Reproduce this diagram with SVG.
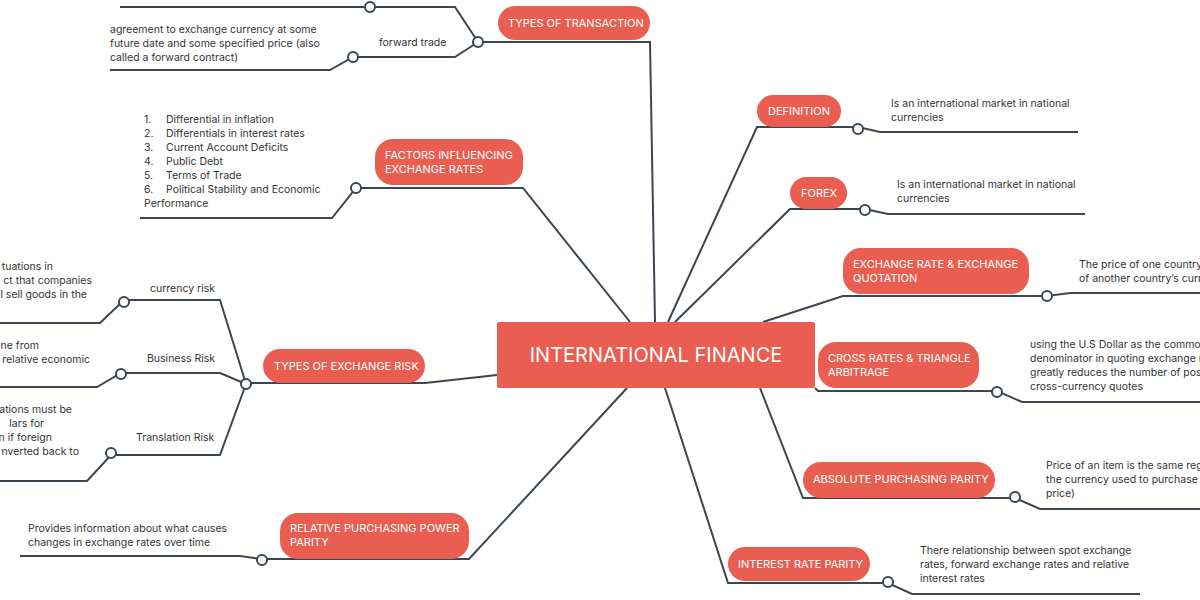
<svg xmlns="http://www.w3.org/2000/svg" width="1200" height="600" viewBox="0 0 1200 600">
<style>
.p{fill:#E95E50}
.pt{fill:#fff;font-family:Inter,"Liberation Sans",sans-serif;font-size:11px}
.t{fill:#333;font-family:Inter,"Liberation Sans",sans-serif;font-size:10.5px}
.l{fill:none;stroke:#3b4650;stroke-width:2}
.c{fill:#fff;stroke:#3b4650;stroke-width:2}
</style>
<rect width="1200" height="600" fill="#fff"/>
<g id="connectors">
<path class="l" d="M655,322 L650,42 H478 M478,42 L455,7 H120 M478,42 L455,57 H353 L330,70 H110"/>
<path class="l" d="M668,322 L757,127 H858 L880,132 H1078"/>
<path class="l" d="M675,322 L790,209 H865 L888,214 H1085"/>
<path class="l" d="M763,322 L843,296 H1047 L1070,293 H1200"/>
<path class="l" d="M815,388 L818,391 H997 L1022,402 H1200"/>
<path class="l" d="M760,388 L803,498 H1015 L1040,509 H1200"/>
<path class="l" d="M665,388 L728,583 H888 L912,594 H1140"/>
<path class="l" d="M627,388 L469,559 H262 L240,556 H20"/>
<path class="l" d="M497,375 L425,383 H246 M246,384 L220,300 H124 L100,323 H0 M246,384 L220,373 H121 L97,387 H0 M246,384 L220,455 H111 L87,481 H0"/>
<path class="l" d="M630,322 L523,188 H356 L332,218 H140"/>
<circle class="c" cx="370" cy="7" r="5"/><circle class="c" cx="478" cy="42" r="5"/><circle class="c" cx="353" cy="57" r="5"/>
<circle class="c" cx="858" cy="129" r="5"/><circle class="c" cx="865" cy="210" r="5"/><circle class="c" cx="1047" cy="296" r="5"/>
<circle class="c" cx="997" cy="392" r="5"/><circle class="c" cx="1015" cy="497" r="5"/><circle class="c" cx="888" cy="582" r="5"/>
<circle class="c" cx="262" cy="560" r="5"/><circle class="c" cx="246" cy="384" r="5"/><circle class="c" cx="124" cy="302" r="5"/>
<circle class="c" cx="121" cy="374" r="5"/><circle class="c" cx="111" cy="453" r="5"/><circle class="c" cx="356" cy="188" r="5"/>
</g>
<g id="center"><rect class="p" x="497" y="322" width="318" height="66" rx="2"/><text class="pt" x="656" y="362" text-anchor="middle" style="font-size:20px">INTERNATIONAL FINANCE</text></g>
<g id="types-of-transaction"><rect class="p" x="498" y="6" width="152" height="34" rx="17"/><text class="pt" x="508" y="27">TYPES OF TRANSACTION</text>
<text class="t" x="379" y="46">forward trade</text>
<text class="t" x="110" y="33">agreement to exchange currency at some</text><text class="t" x="110" y="47">future date and some specified price (also</text><text class="t" x="110" y="61">called a forward contract)</text></g>
<g id="definition"><rect class="p" x="757" y="95" width="84" height="32" rx="16"/><text class="pt" x="768" y="115">DEFINITION</text>
<text class="t" x="891" y="107">Is an international market in national</text><text class="t" x="891" y="121">currencies</text></g>
<g id="forex"><rect class="p" x="790" y="177" width="57" height="32" rx="16"/><text class="pt" x="801" y="197">FOREX</text>
<text class="t" x="897" y="188">Is an international market in national</text><text class="t" x="897" y="202">currencies</text></g>
<g id="exchange-rate"><rect class="p" x="843" y="248" width="186" height="46" rx="18"/><text class="pt" x="853" y="268">EXCHANGE RATE &amp; EXCHANGE</text><text class="pt" x="853" y="282">QUOTATION</text>
<text class="t" x="1079" y="268">The price of one country’s currency in units</text><text class="t" x="1079" y="282">of another country’s currency</text></g>
<g id="cross-rates"><rect class="p" x="818" y="342" width="161" height="46" rx="18"/><text class="pt" x="828" y="362">CROSS RATES &amp; TRIANGLE</text><text class="pt" x="828" y="376">ARBITRAGE</text>
<text class="t" x="1030" y="348">using the U.S Dollar as the common</text><text class="t" x="1030" y="362">denominator in quoting exchange rates</text><text class="t" x="1030" y="376">greatly reduces the number of possible</text><text class="t" x="1030" y="390">cross-currency quotes</text></g>
<g id="absolute-ppp"><rect class="p" x="803" y="462" width="192" height="36" rx="18"/><text class="pt" x="813" y="483">ABSOLUTE PURCHASING PARITY</text>
<text class="t" x="1046" y="469">Price of an item is the same regardless of</text><text class="t" x="1046" y="483">the currency used to purchase it (law of one</text><text class="t" x="1046" y="497">price)</text></g>
<g id="interest-rate-parity"><rect class="p" x="728" y="547" width="142" height="34" rx="17"/><text class="pt" x="738" y="568">INTEREST RATE PARITY</text>
<text class="t" x="920" y="554">There relationship between spot exchange</text><text class="t" x="920" y="568">rates, forward exchange rates and relative</text><text class="t" x="920" y="582">interest rates</text></g>
<g id="relative-ppp"><rect class="p" x="280" y="513" width="189" height="46" rx="18"/><text class="pt" x="290" y="532">RELATIVE PURCHASING POWER</text><text class="pt" x="290" y="546">PARITY</text>
<text class="t" x="28" y="532">Provides information about what causes</text><text class="t" x="28" y="546">changes in exchange rates over time</text></g>
<g id="types-of-exchange-risk"><rect class="p" x="263" y="349" width="162" height="34" rx="17"/><text class="pt" x="274" y="370">TYPES OF EXCHANGE RISK</text>
<text class="t" x="150" y="292">currency risk</text><text class="t" x="147" y="362">Business Risk</text><text class="t" x="136" y="441">Translation Risk</text>
<text class="t" x="53" y="270" text-anchor="end">tuations in</text><text class="t" x="92" y="284" text-anchor="end">ct that companies</text><text class="t" x="87" y="298" text-anchor="end">l sell goods in the</text>
<text class="t" x="39" y="349" text-anchor="end">ne from</text><text class="t" x="90" y="363" text-anchor="end">relative economic</text>
<text class="t" x="72" y="413" text-anchor="end">ations must be</text><text class="t" x="44" y="427" text-anchor="end">lars for</text><text class="t" x="52" y="441" text-anchor="end">n if foreign</text><text class="t" x="79" y="455" text-anchor="end">nverted back to</text></g>
<g id="factors"><rect class="p" x="375" y="139" width="148" height="46" rx="18"/><text class="pt" x="385" y="159">FACTORS INFLUENCING</text><text class="pt" x="385" y="173">EXCHANGE RATES</text>
<text class="t" x="144" y="123">1.</text><text class="t" x="166" y="123">Differential in inflation</text>
<text class="t" x="144" y="137">2.</text><text class="t" x="166" y="137">Differentials in interest rates</text>
<text class="t" x="144" y="151">3.</text><text class="t" x="166" y="151">Current Account Deficits</text>
<text class="t" x="144" y="165">4.</text><text class="t" x="166" y="165">Public Debt</text>
<text class="t" x="144" y="179">5.</text><text class="t" x="166" y="179">Terms of Trade</text>
<text class="t" x="144" y="193">6.</text><text class="t" x="166" y="193">Political Stability and Economic</text>
<text class="t" x="144" y="207">Performance</text></g>
</svg>
